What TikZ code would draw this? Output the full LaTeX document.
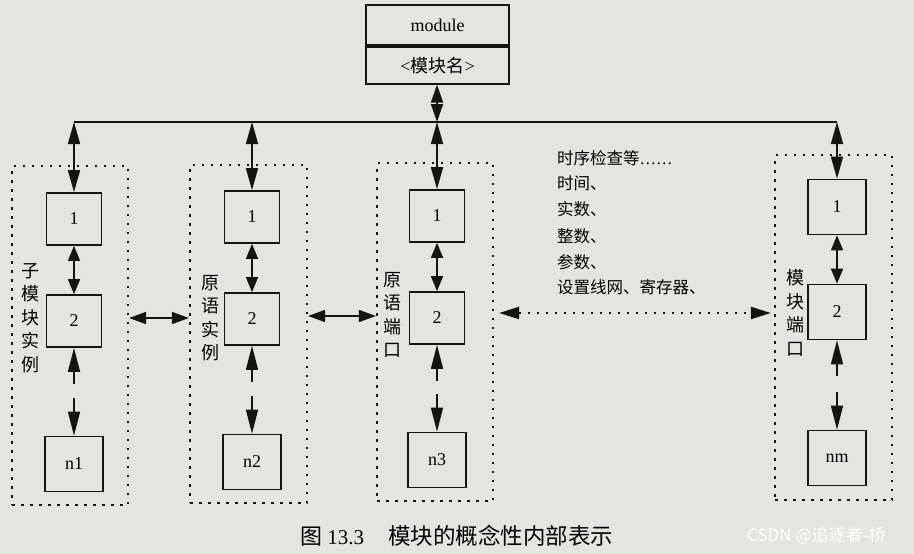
\documentclass[tikz,border=0pt]{standalone}
\usepackage{fontspec}
\setmainfont{Liberation Serif}
\newfontfamily\cjk{Noto Sans CJK SC}
\usetikzlibrary{arrows.meta}
\definecolor{paper}{RGB}{228,228,225}
\definecolor{ink}{RGB}{20,20,20}
\begin{document}
\begin{tikzpicture}[x=1pt,y=-1pt,
  box/.style={draw=ink, line width=1.7pt, minimum width=55pt, minimum height=52pt, inner sep=0pt, font=\fontsize{18}{18}\selectfont},
  nbox/.style={box, minimum width=58pt, minimum height=55pt},
  cont/.style={draw=ink, line width=2.2pt, dash pattern=on 2.5pt off 6.5pt, minimum width=116pt, inner sep=0pt},
  tip/.style={-{Triangle[length=#1,width=12pt]}},
  dbl/.style={{Triangle[length=#1,width=12pt]}-{Triangle[length=#1,width=12pt]}},
  link/.style={draw=ink, line width=1.5pt},
  vlab/.style={font=\cjk\fontsize{18}{23.5}\selectfont, align=center, inner sep=0pt},
  txt/.style={font=\cjk\fontsize{16.5}{16.5}\selectfont, anchor=west, inner sep=0pt},
]
\useasboundingbox[fill=paper] (0,0) rectangle (914,554);

% module box
\node[draw=ink, line width=1.7pt, minimum width=143pt, minimum height=40pt, inner sep=0pt,
      font=\fontsize{18}{18}\selectfont] (modtop) at (437.5,25) {module};
\node[draw=ink, line width=1.7pt, minimum width=143pt, minimum height=37pt, inner sep=0pt,
      font=\fontsize{18}{18}\selectfont, anchor=north] (modbot) at (modtop.south) {<{\cjk 模块名}>};

% bus
\coordinate (j1) at (74,122);
\coordinate (j2) at (252,122);
\coordinate (jm) at (437,122);
\coordinate (j4) at (837,122);
\draw[link] (j1) -- (j4);
\draw[link, dbl=18pt] (modbot.south -| jm) -- (jm);

% containers
\node[cont, minimum height=339pt] (c1) at (70,335.5) {};
\node[cont, minimum width=117pt, minimum height=338pt] (c2) at (248.5,334) {};
\node[cont, minimum height=338pt] (c3) at (435,332) {};
\node[cont, minimum width=117pt, minimum height=345pt] (c4) at (833.5,327.5) {};

% column 1
\node[box] (a1) at (74,219) {1};
\node[box] (a2) at (74,321) {2};
\node[nbox] (an) at (74,464) {n1};
% column 2
\node[box] (b1) at (252,217) {1};
\node[box] (b2) at (252,319) {2};
\node[nbox] (bn) at (252,462) {n2};
% column 3
\node[box] (d1) at (437,216) {1};
\node[box] (d2) at (437,318) {2};
\node[nbox] (dn) at (437,460) {n3};
% column 4
\node[box, minimum width=58pt, minimum height=55pt] (e1) at (837,207) {1};
\node[box, minimum width=58pt, minimum height=55pt] (e2) at (837,312) {2};
\node[nbox] (en) at (837,458) {nm};

% bus to first boxes
\draw[link, dbl=22pt] (j1) -- (a1.north);
\draw[link, dbl=22pt] (j2) -- (b1.north);
\draw[link, dbl=22pt] (jm) -- (d1.north);
\draw[link, dbl=22pt] (j4) -- (e1.north);

% box 1 to box 2
\draw[link, dbl=15pt] (a1) -- (a2);
\draw[link, dbl=15pt] (b1) -- (b2);
\draw[link, dbl=15pt] (d1) -- (d2);
\draw[link, dbl=15pt] (e1) -- (e2);

% box 2 to n (broken)
\foreach \u/\n in {a/an, b/bn, d/dn, e/en}{
  \draw[link, tip=24pt] ([yshift=-36pt]\u2.south) -- (\u2.south);
  \draw[link, tip=24pt] ([yshift=38pt]\n.north) -- (\n.north);
}

% links between containers
\draw[link, dbl=17pt] (c1.east |- 0,318) -- (c2.west |- 0,318);
\draw[link, dbl=17pt] (c2.east |- 0,316) -- (c3.west |- 0,316);
\draw[link, line width=2pt, dash pattern=on 2.5pt off 6.5pt, dbl=20pt] ([xshift=5pt]c3.east |- 0,313) -- ([xshift=-3pt]c4.west |- 0,313);

% vertical labels
\node[vlab] (l1) at (30,318) {子\\模\\块\\实\\例};
\node[vlab] (l2) at (210,318) {原\\语\\实\\例};
\node[vlab] (l3) at (392,315) {原\\语\\端\\口};
\node[vlab] (l4) at (795,313) {模\\块\\端\\口};

% text block
\node[txt] (t1) at (557,158) {时序检查等{\rmfamily ……}};
\node[txt] (t2) at (557,183) {时间、};
\node[txt] (t3) at (557,209) {实数、};
\node[txt] (t4) at (557,236) {整数、};
\node[txt] (t5) at (557,262) {参数、};
\node[txt] (t6) at (557,287) {设置线网、寄存器、};

% caption
\node[anchor=west, inner sep=0pt, font=\fontsize{21}{21}\selectfont] (cap) at (300,536)
  {{\cjk\fontsize{22}{22}\selectfont 图} 13.3\hspace{24pt}{\cjk\fontsize{22.5}{22.5}\selectfont 模块的概念性内部表示}};

% watermark
\node[anchor=west, inner sep=0pt, text=white, font=\cjk\fontsize{17}{17}\selectfont] (wm) at (747,536) {CSDN @追逐者-桥};
\end{tikzpicture}
\end{document}
